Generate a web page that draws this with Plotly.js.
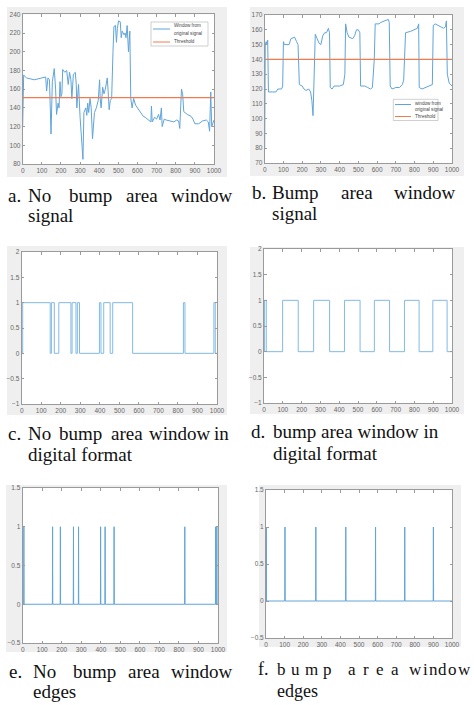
<!DOCTYPE html>
<html>
<head>
<meta charset="utf-8">
<script src="https://cdn.plot.ly/plotly-3.0.1.min.js"></script>
<style>
  html, body { margin: 0; padding: 0; background: #fff; }
  #chart { width: 474px; height: 705px; }
</style>
</head>
<body>
<div id="chart"></div>
<script>
// a. no bump area window signal
const a_x = [0,5,20,40,60,80,100,120,125,132,140,148,155,165,172,177,185,190,195,200,205,209,220,230,238,245,252,257,265,275,280,283,288,292,300,308,315,320,330,335,340,345,352,358,365,375,385,395,402,405,410,418,425,432,442,446,452,458,465,472,477,485,490,495,501,510,515,520,530,535,540,546,553,560,565,572,580,590,600,610,620,630,640,650,660,670,673,677,690,700,710,718,725,729,740,750,770,790,805,815,821,830,836,842,860,880,890,900,920,940,960,970,977,983,988,1000];
const a_y = [121,175,172,171,170,171,172,173,158,172,170,112,168,182,160,133,145,140,168,152,155,181,178,180,165,178,170,150,176,178,165,140,155,165,130,100,85,135,140,132,145,135,150,140,107,135,140,148,170,150,140,162,155,160,172,160,138,148,150,200,227,228,210,225,233,232,215,222,218,220,215,228,200,222,150,140,150,143,140,138,135,131,130,128,126,125,142,125,130,128,133,127,140,120,128,127,126,125,127,126,118,160,155,136,133,131,128,123,123,126,127,125,115,157,120,127];
const a_threshold = 151;

// b. bump area window signal
const b_x = [0,3,8,12,16,20,40,60,70,90,96,100,105,130,140,160,170,178,185,200,210,220,235,245,252,258,262,270,280,290,300,310,320,330,340,346,350,360,370,400,420,428,432,440,450,470,480,490,500,508,512,535,550,565,575,585,590,610,620,640,660,665,670,680,700,720,735,742,748,752,780,800,815,822,825,840,860,880,895,900,910,925,940,955,965,970,975,985,1000];
const b_y = [80,150,152,150,153,118,118,118,120,120,122,152,150,150,154,155,152,150,123,122,120,119,120,118,112,102,120,157,154,151,150,156,158,158,161,158,121,120,122,122,123,130,164,158,155,154,156,160,160,158,122,122,121,120,121,140,164,164,165,166,167,165,122,120,121,121,123,126,140,158,159,160,161,164,121,120,121,122,123,163,164,163,162,161,162,166,130,124,122];
const b_threshold = 140;

// c. / d. digital format (value held until the next change)
const c_x = [0,5,146,152,167,190,252,258,278,285,296,398,406,420,453,466,568,828,836,984,991,1000];
const c_y = [0,1,0,1,0,1,0,1,0,1,0,1,0,1,0,1,0,1,0,1,0,0];
const d_x = [0,3,12,99,182,264,349,428,511,587,668,747,825,898,974,1000];
const d_y = [0,1,0,1,0,1,0,1,0,1,0,1,0,1,0,0];

// e. / f. edge samples (value 1 at these indices, 0 elsewhere)
const e_edges = [6,153,193,260,286,399,422,468,830,988,994];
const f_edges = [2,102,268,429,589,746,900];

const xTicks = [0,100,200,300,400,500,600,700,800,900,1000];

function spikes(edges) {
  let x = [0], y = [0];
  for (const e of edges) {
    x.push(e - 1, e, e + 1);
    y.push(0, 1, 0);
  }
  x.push(1000); y.push(0);
  return {x: x, y: y};
}

const W = 474, H = 705;
const px = v => v / W;
const py = v => 1 - v / H;

const blue = 'rgb(96,164,218)';
const blueLight = 'rgb(130,186,230)';
const red = 'rgb(242,122,80)';

// plot boxes in pixels: [left, top, right, bottom]
const boxes = [
  {plot: [22.7, 14.3, 214, 164], bg: [7, 7, 227, 177], yr: [80, 240], dt: 20},
  {plot: [264.7, 15, 452, 163], bg: [250, 7, 464, 176], yr: [70, 170], dt: 10},
  {plot: [21.7, 252, 217, 404], bg: [7, 246, 227, 415], yr: [-1, 2], dt: 0.5},
  {plot: [264, 249, 452, 403], bg: [250, 247, 464, 414], yr: [-1, 2], dt: 0.5},
  {plot: [22.7, 488, 218, 643], bg: [6, 485, 227, 652], yr: [-0.5, 1.5], dt: 0.5},
  {plot: [266, 490, 452, 638], bg: [259, 485, 461, 647], yr: [-0.5, 1.5], dt: 0.5}
];

const eS = spikes(e_edges), fS = spikes(f_edges);
const data = [
  {x: a_x, y: a_y, xaxis: 'x', yaxis: 'y', line: {color: blue, width: 1}},
  {x: [0, 1000], y: [a_threshold, a_threshold], xaxis: 'x', yaxis: 'y', line: {color: red, width: 1.3}},
  {x: b_x, y: b_y, xaxis: 'x2', yaxis: 'y2', line: {color: blue, width: 1}},
  {x: [0, 1000], y: [b_threshold, b_threshold], xaxis: 'x2', yaxis: 'y2', line: {color: red, width: 1.3}},
  {x: c_x, y: c_y, xaxis: 'x3', yaxis: 'y3', line: {color: blueLight, width: 1, shape: 'hv'}},
  {x: d_x, y: d_y, xaxis: 'x4', yaxis: 'y4', line: {color: blueLight, width: 1, shape: 'hv'}},
  {x: eS.x, y: eS.y, xaxis: 'x5', yaxis: 'y5', line: {color: blue, width: 1}},
  {x: fS.x, y: fS.y, xaxis: 'x6', yaxis: 'y6', line: {color: blue, width: 1}}
].map(t => Object.assign({type: 'scatter', mode: 'lines', showlegend: false, hoverinfo: 'skip'}, t));

let layout = {
  width: W, height: H,
  margin: {l: 0, r: 0, t: 0, b: 0},
  paper_bgcolor: '#fff',
  plot_bgcolor: '#fff',
  showlegend: false,
  font: {family: 'Liberation Sans, Arial, sans-serif'},
  shapes: [],
  annotations: []
};

boxes.forEach((b, i) => {
  const n = i === 0 ? '' : String(i + 1);
  const common = {
    showline: true, linecolor: '#9a9a9a', linewidth: 1, mirror: 'ticks',
    ticks: 'inside', ticklen: 2.5, tickcolor: '#9a9a9a', tickwidth: 1,
    showgrid: false, zeroline: false, fixedrange: true,
    tickfont: {size: 6.5, color: '#666'}
  };
  layout['xaxis' + n] = Object.assign({}, common, {
    domain: [px(b.plot[0]), px(b.plot[2])], range: [0, 1000],
    tickvals: xTicks, anchor: 'y' + n
  });
  layout['yaxis' + n] = Object.assign({}, common, {
    domain: [py(b.plot[3]), py(b.plot[1])], range: b.yr,
    tick0: b.yr[0], dtick: b.dt, anchor: 'x' + n
  });
  layout.shapes.push({type: 'rect', xref: 'paper', yref: 'paper', layer: 'below',
    x0: px(b.bg[0]), x1: px(b.bg[2]), y0: py(b.bg[3]), y1: py(b.bg[1]),
    fillcolor: '#efefef', line: {width: 0}});
});
boxes.forEach((b, i) => {
  const n = i === 0 ? '' : String(i + 1);
  layout.shapes.push({type: 'rect', xref: 'x' + n + ' domain', yref: 'y' + n + ' domain', layer: 'below',
    x0: 0, x1: 1, y0: 0, y1: 1, fillcolor: '#fff', line: {width: 0}});
});

// legends drawn by hand so they stay as small as in the figure
function legend(box, rows) {
  layout.shapes.push({type: 'rect', xref: 'paper', yref: 'paper',
    x0: px(box[0]), x1: px(box[2]), y0: py(box[3]), y1: py(box[1]),
    fillcolor: '#fff', line: {color: '#b0b0b0', width: 0.6}});
  rows.forEach(r => {
    if (r.line) {
      layout.shapes.push({type: 'line', xref: 'paper', yref: 'paper',
        x0: px(r.line[0]), x1: px(r.line[1]), y0: py(r.y), y1: py(r.y),
        line: {color: r.color, width: 1}});
    }
    layout.annotations.push({xref: 'paper', yref: 'paper', x: px(r.tx), y: py(r.ty),
      xanchor: 'left', yanchor: 'middle', showarrow: false, text: r.text,
      font: {size: 4.6, color: '#444'}});
  });
}
legend([151, 22, 208, 46], [
  {line: [153, 170], y: 29, color: blue, text: 'Window from', tx: 172, ty: 25.5},
  {text: 'original signal', tx: 172, ty: 33.5},
  {line: [153, 170], y: 42, color: red, text: 'Threshold', tx: 172, ty: 41.5}
]);
legend([393.3, 99.3, 438, 120.5], [
  {line: [395, 411], y: 104.5, color: blue, text: 'window from', tx: 413, ty: 103.5},
  {text: 'original signal', tx: 413, ty: 109.5},
  {line: [395, 411], y: 116.5, color: red, text: 'Threshold', tx: 413, ty: 116}
]);

// captions: [text, left x, baseline y, font size]
const captions = [
  ['a.', 7, 202], ['No', 27, 202], ['bump', 68, 202], ['area', 125, 202], ['window', 170, 202], ['signal', 27, 222],
  ['b.', 251, 199], ['Bump', 271, 199], ['area', 340, 199], ['window', 393, 199], ['signal', 271, 220],
  ['c.', 7, 440], ['No', 27, 440], ['bump', 58, 440], ['area', 110, 440], ['window', 148, 440], ['in', 213, 440],
  ['digital format', 27, 461],
  ['d.', 250, 438], ['bump area window in', 272, 438], ['digital format', 272, 460],
  ['e.', 8, 678], ['No', 32, 678], ['bump', 72, 678], ['area', 127, 678], ['window', 170, 678], ['edges', 32, 698],
  ['f.', 257, 675, 18], ['edges', 276, 697, 18]
];
// the last caption is letter spaced: each letter placed on its own
const spaced = [
  ['b', 276], ['u', 289.9], ['m', 303.8], ['p', 322.4],
  ['a', 347], ['r', 361.8], ['e', 374.8], ['a', 389.6],
  ['w', 408], ['i', 421.6], ['n', 427.6], ['d', 437.4], ['o', 447.2], ['w', 457]
];
spaced.forEach(s => captions.push([s[0], s[1], 675, 17]));

captions.forEach(c => {
  const size = c[3] || 19;
  layout.annotations.push({xref: 'paper', yref: 'paper', x: px(c[1]), y: py(c[2] - size * 0.34),
    xanchor: 'left', yanchor: 'middle', showarrow: false, text: c[0], borderpad: 0,
    font: {family: 'Liberation Serif, Times New Roman, serif', size: size, color: '#111'}});
});

Plotly.newPlot('chart', data, layout, {staticPlot: true, displayModeBar: false});
</script>
</body>
</html>
